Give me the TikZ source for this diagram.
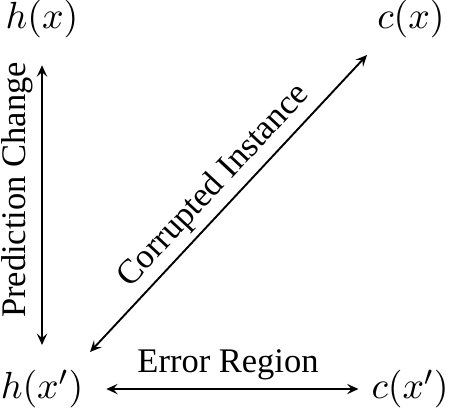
\documentclass[tikz,border=0pt]{standalone}
\usepackage[no-math]{fontspec}
\setmainfont{Liberation Serif}
\usetikzlibrary{arrows.meta}
\begin{document}
\begin{tikzpicture}[x=0.2899pt,y=-0.2899pt,
  lbl/.style={inner sep=0pt, font=\fontsize{10}{12}\selectfont},
  mth/.style={inner sep=0pt, font=\fontsize{10.95}{13}\selectfont},
  conn/.style={line width=0.55pt, {Stealth[length=3.3pt,width=3pt,inset=1.3pt]}-{Stealth[length=3.3pt,width=3pt,inset=1.3pt]}}]
\useasboundingbox (0,0) rectangle (454,409);
\node[mth] (hx) at (42,19.5) {$h(x)$};
\node[mth] (cx) at (411,19.5) {$c(x)$};
\node[mth] (hxp) at (42,389) {$h(x')$};
\node[mth] (cxp) at (410,389) {$c(x')$};
\coordinate (d1) at (90,352);
\coordinate (d2) at (367,55);
\draw[conn, shorten <=7.6pt, shorten >=7pt] (hx.south) -- (hxp.north);
\draw[conn, shorten <=6.5pt, shorten >=3.6pt] (hxp.east) -- (cxp.west);
\draw[conn] (d1) -- (d2);
\node[lbl, rotate=90] (pc) at (17.5,190) {Prediction Change};
\node[lbl] (er) at (228,364.5) {Error Region};
\node[lbl, rotate=47] (ci) at (214,186) {Corrupted Instance};
\end{tikzpicture}
\end{document}
